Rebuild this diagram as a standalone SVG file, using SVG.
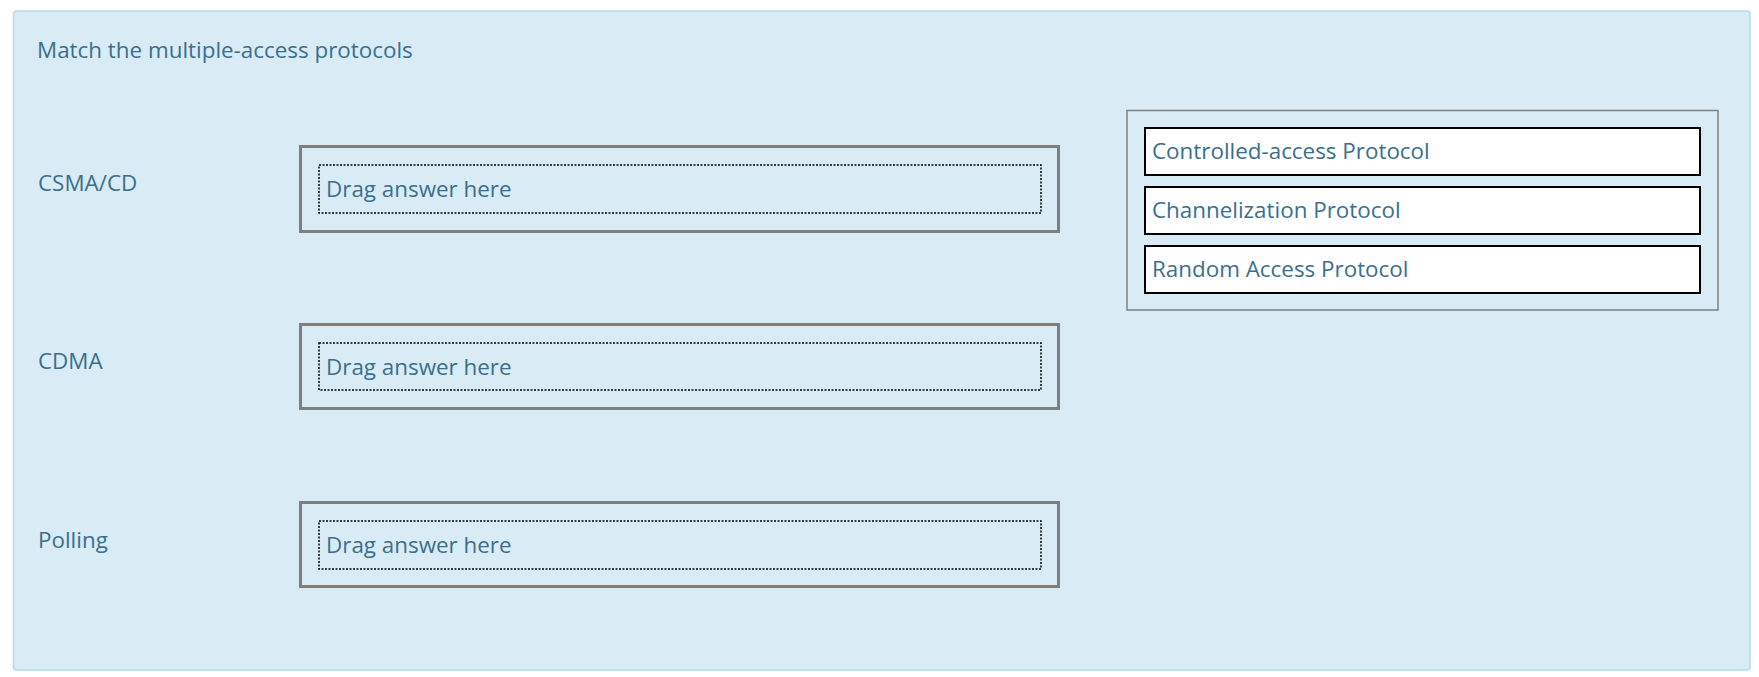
<svg xmlns="http://www.w3.org/2000/svg" width="1759" height="677" viewBox="0 0 1759 677">
<style>
text{font-family:"Open Sans","Noto Sans",sans-serif;font-size:22.4px;fill:#3b6f8e}
.drop{fill:none;stroke:#7f7f7f;stroke-width:3}
.inner{fill:none;stroke:#000;stroke-width:1.5;stroke-dasharray:2 1.5}
.opt{fill:#fff;stroke:#000;stroke-width:2}
</style>
<rect width="1759" height="677" fill="#fff"/>
<rect x="13.5" y="11" width="1736.5" height="659" rx="3" fill="#d9ecf5" stroke="#b5dbef" stroke-width="1.5"/>
<text x="37" y="58">Match the multiple-access protocols</text>
<g id="row1"><text x="38" y="191">CSMA/CD</text><rect class="drop" x="300.5" y="146.5" width="758" height="85"/><rect class="inner" x="319" y="165" width="722" height="48"/><text x="326" y="197">Drag answer here</text></g>
<g id="row2"><text x="38" y="369">CDMA</text><rect class="drop" x="300.5" y="324.5" width="758" height="84"/><rect class="inner" x="319" y="343" width="722" height="47"/><text x="326" y="375">Drag answer here</text></g>
<g id="row3"><text x="38" y="548">Polling</text><rect class="drop" x="300.5" y="502.5" width="758" height="84"/><rect class="inner" x="319" y="521" width="722" height="48"/><text x="326" y="553">Drag answer here</text></g>
<g id="options"><rect x="1127" y="110.5" width="591" height="199.5" fill="none" stroke="#7f7f7f" stroke-width="1.5"/>
<g id="opt1"><rect class="opt" x="1145" y="128" width="555" height="47"/><text x="1152" y="159">Controlled-access Protocol</text></g>
<g id="opt2"><rect class="opt" x="1145" y="187" width="555" height="47"/><text x="1152" y="218">Channelization Protocol</text></g>
<g id="opt3"><rect class="opt" x="1145" y="246" width="555" height="47"/><text x="1152" y="277">Random Access Protocol</text></g></g>
<g id="connectors"/>
</svg>
